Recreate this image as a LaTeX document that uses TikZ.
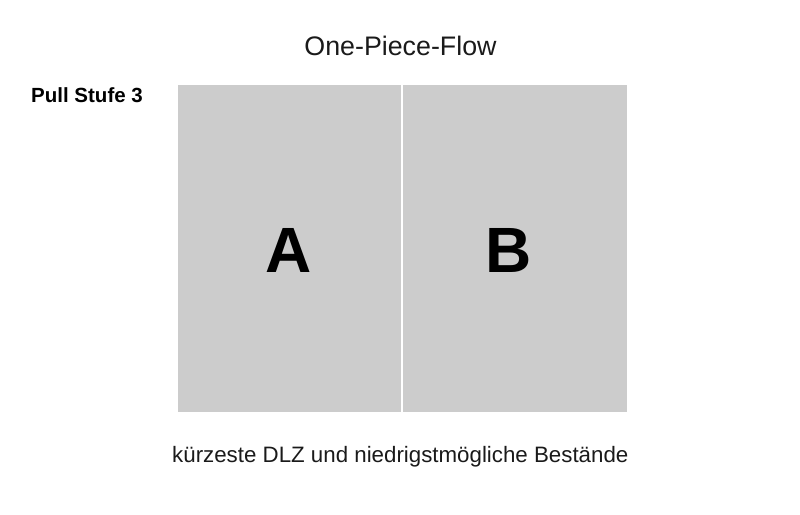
\documentclass[tikz,border=0pt]{standalone}
\usepackage{fontspec}
\setmainfont{Liberation Sans}
\usepackage{xcolor}
\usepackage{tikz}
\usetikzlibrary{calc}
\definecolor{boxgrey}{RGB}{204,204,204}
\definecolor{textdark}{RGB}{26,26,26}

\begin{document}
\begin{tikzpicture}[x=1pt,y=-1pt]
                    \useasboundingbox (0,0) rectangle (800,514);%

                    % Drawing the two stations

                    \fill [boxgrey] (178,85) rectangle (401,411.5);%
                    \fill [boxgrey] (403,85) rectangle (626.5,411.5);%
                    \draw (289,272) node [anchor=base, inner sep=0pt] (stationA) {\fontsize{64}{70}\selectfont\bfseries A};%
                    \draw (509,272) node [anchor=base, inner sep=0pt] (stationB) {\fontsize{64}{70}\selectfont\bfseries B};%

                    % Drawing the labels

                    \color{textdark}
                    \draw (400.5,55) node [anchor=base, inner sep=0pt] (title) {\fontsize{26.8}{30}\selectfont One-Piece-Flow};%
                    \draw (400.3,462) node [anchor=base, inner sep=0pt] (caption) {\fontsize{22.3}{26}\selectfont kürzeste DLZ und niedrigstmögliche Bestände};%
                    \color{black}
                    \draw (31,102) node [anchor=base west, inner sep=0pt] (level) {\fontsize{20.5}{24}\selectfont\bfseries Pull Stufe 3};%

                \end{tikzpicture}
\end{document}
